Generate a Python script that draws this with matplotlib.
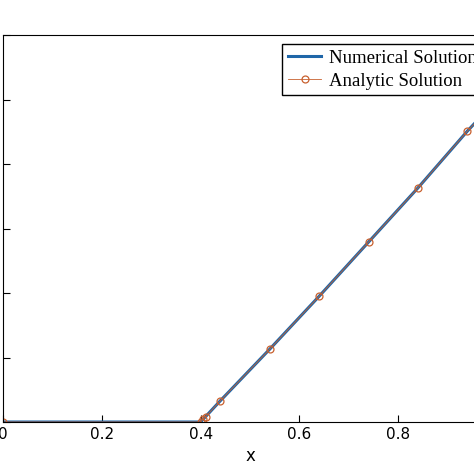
import matplotlib
matplotlib.use("Agg")
import matplotlib.pyplot as plt

num_x = [0.0, 0.4, 0.44, 0.54, 0.64, 0.74, 0.84, 0.94, 1.0]
num_y = [0.0, 0.0, 0.033, 0.113, 0.195, 0.279, 0.363, 0.451, 0.50]
ana_x = [0.0, 0.4, 0.405, 0.41, 0.44, 0.54, 0.64, 0.74, 0.84, 0.94, 1.0]
ana_y = [0.0, 0.0, 0.004, 0.008, 0.033, 0.113, 0.195, 0.279, 0.363, 0.451, 0.50]
xticks = [0, 0.2, 0.4, 0.6, 0.8, 1.0]
yticks = [0, 0.1, 0.2, 0.3, 0.4, 0.5, 0.6]

fig = plt.figure(figsize=(4.74, 4.74), dpi=100)
ax = fig.add_axes([3/474, 52/474, 494/474, 387/474])
ax.plot(num_x, num_y, color="#1f66a8", lw=2.2, label="Numerical Solution")
ax.plot(ana_x, ana_y, color="#c8602e", lw=0.6, marker="o", ms=5, mfc="none",
        mew=0.9, label="Analytic Solution")
ax.set_xlim(0, 1)
ax.set_ylim(0, 0.6)
ax.set_xticks(xticks)
ax.set_xticklabels(["0", "0.2", "0.4", "0.6", "0.8", "1"])
ax.set_yticks(yticks)
ax.tick_params(direction="in", labelsize=11, length=5)
ax.set_xlabel("x", fontsize=12)
for s in ax.spines.values():
    s.set_linewidth(0.8)
ax.legend(loc="upper left", bbox_to_anchor=(282/474, 1-44/474),
          bbox_transform=fig.transFigure, prop={"family": "Liberation Serif", "size": 13.5},
          fancybox=False, edgecolor="black", framealpha=1, borderaxespad=0,
          handlelength=1.8, handletextpad=0.4, borderpad=0.3, labelspacing=0.3)
fig.savefig("out.png", dpi=100)
